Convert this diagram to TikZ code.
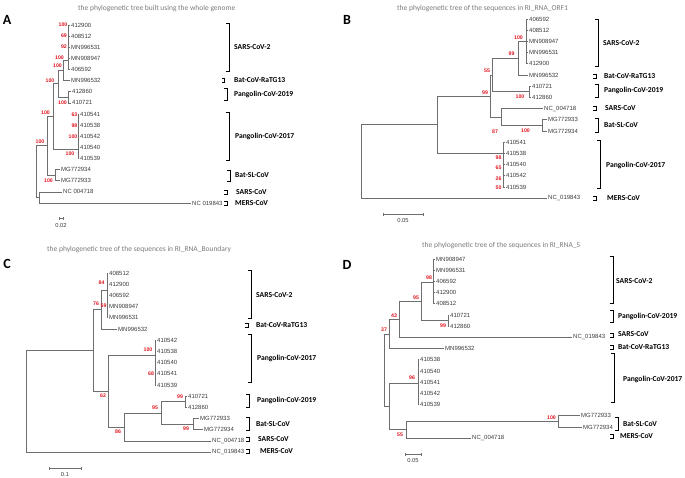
\documentclass[tikz,border=0pt]{standalone}
\usepackage{fontspec}
\setmainfont{Liberation Sans}
\newfontfamily\calfont{Carlito}
\definecolor{treeg}{HTML}{6E6E6E}
\definecolor{leafc}{HTML}{3A3A3A}
\definecolor{bsred}{HTML}{E0141E}
\definecolor{titleg}{HTML}{7A7A7A}
\tikzset{
  br/.style={draw=treeg, line width=0.65pt},
  brk/.style={draw=black, line width=0.75pt},
  leaf/.style={anchor=west, inner sep=0.6pt, text=leafc, font=\fontsize{6}{6.5}\selectfont},
  bs/.style={inner sep=0pt, text=bsred, font=\fontsize{5.2}{5.5}\selectfont\bfseries},
  grp/.style={anchor=west, inner sep=0pt, text=black, font=\fontsize{7.6}{8}\selectfont\calfont\bfseries},
  ttl/.style={anchor=west, inner sep=0pt, text=titleg, font=\fontsize{7.5}{8}\selectfont\calfont},
  plet/.style={inner sep=0pt, font=\fontsize{14}{14}\selectfont\calfont\bfseries},
  sbar/.style={draw=treeg, line width=0.6pt},
  slab/.style={inner sep=0pt, text=leafc, font=\fontsize{5.8}{6}\selectfont}
}
\newcommand\lf[4]{\node[leaf] (#1) at (#2,#3) {#4};}
\newcommand\bsl[4]{\node[bs] (#1) at (#2,#3) {#4};}
\newcommand\grp[7]{\coordinate (#1t) at (#2,#3); \coordinate (#1b) at (#2,#4);
  \draw[brk] ([xshift=-2.6pt]#1t) -- (#1t) -- (#1b) -- ([xshift=-2.6pt]#1b);
  \node[grp] (#1L) at (#5,#6) {#7};}
\begin{document}
\begin{tikzpicture}[x=1pt,y=-1pt]
\useasboundingbox (0,0) rectangle (685,477);
% ================= Panel A =================
\node[plet] (PA) at (7,20) {A};
\node[ttl] (TA) at (78,9) {the phylogenetic tree built using the whole genome};
\lf{A0}{70.4}{25}{412900}
\lf{A1}{70.4}{36.1}{408512}
\lf{A2}{70.4}{47.25}{MN996531}
\lf{A3}{70.4}{58.4}{MN908947}
\lf{A4}{70.4}{69.5}{406592}
\lf{A5}{70.4}{80.6}{MN996532}
\lf{A6}{71.4}{91.75}{412860}
\lf{A7}{71.4}{102.9}{410721}
\lf{A8}{79.4}{114}{410541}
\lf{A9}{79.4}{125.1}{410538}
\lf{A10}{79.4}{136.25}{410542}
\lf{A11}{79.4}{147.4}{410540}
\lf{A12}{79.4}{158.5}{410539}
\lf{A13}{60.4}{169.6}{MG772934}
\lf{A14}{60.4}{180.75}{MG772933}
\lf{A15}{62.4}{191.9}{NC 004718}
\lf{A16}{191.4}{203}{NC 019843}
\coordinate (a1) at (68,60);
\coordinate (a2) at (63,70.3);
\coordinate (a3) at (68,97.3);
\coordinate (a4) at (58,83.8);
\coordinate (a5) at (78,149);
\coordinate (a6) at (53,116.4);
\coordinate (a7) at (55,175.2);
\coordinate (a8) at (47,145.8);
\coordinate (a9) at (39,197.5);
\coordinate (a0) at (36,171.6);
\foreach \c in {A0,A1,A2,A3,A4} \draw[br] (a1) |- (\c.west);
\draw[br] (a2) |- (a1); \draw[br] (a2) |- (A5.west);
\draw[br] (a3) |- (A6.west); \draw[br] (a3) |- (A7.west);
\draw[br] (a4) |- (a2); \draw[br] (a4) |- (a3);
\foreach \c in {A8,A9,A10,A11,A12} \draw[br] (a5) |- (\c.west);
\draw[br] (a6) |- (a4); \draw[br] (a6) |- (a5);
\draw[br] (a7) |- (A13.west); \draw[br] (a7) |- (A14.west);
\draw[br] (a8) |- (a6); \draw[br] (a8) |- (a7);
\draw[br] (a9) |- (A15.west); \draw[br] (a9) |- (A16.west);
\draw[br] (a0) |- (a8); \draw[br] (a0) |- (a9);
\bsl{Ab1}{63}{25}{100}
\bsl{Ab2}{64}{35.5}{69}
\bsl{Ab3}{64}{47}{92}
\bsl{Ab4}{59.5}{57.5}{100}
\bsl{Ab5}{57.5}{66}{100}
\bsl{Ab6}{50}{81}{100}
\bsl{Ab7}{62.5}{103}{100}
\bsl{Ab8}{74.5}{115}{63}
\bsl{Ab9}{74.5}{126}{98}
\bsl{Ab10}{73}{137}{100}
\bsl{Ab11}{70}{153.5}{100}
\bsl{Ab12}{45.5}{113}{100}
\bsl{Ab13}{40}{142}{100}
\bsl{Ab14}{48.5}{181}{100}
\coordinate (sA1) at (59,218); \coordinate (sA2) at (63,218);
\draw[sbar] (sA1) -- (sA2);
\draw[sbar] ([yshift=-1.5pt]sA1) -- ([yshift=1.5pt]sA1);
\draw[sbar] ([yshift=-1.5pt]sA2) -- ([yshift=1.5pt]sA2);
\node[slab] (sAL) at (61,225) {0.02};
\grp{gA1}{229}{23}{71}{234}{47}{SARS-CoV-2}
\grp{gA2}{224.5}{78}{82}{234}{80}{Bat-CoV-RaTG13}
\grp{gA3}{227}{88}{100}{234}{94}{Pangolin-CoV-2019}
\grp{gA4}{229}{112}{160}{235}{136}{Pangolin-CoV-2017}
\grp{gA5}{230}{170}{181}{235}{175}{Bat-SL-CoV}
\grp{gA6}{227}{190}{194}{236}{192}{SARS-CoV}
\grp{gA7}{227}{201}{205}{235}{203}{MERS-CoV}
% ================= Panel B =================
\node[plet] (PB) at (347,20) {B};
\node[ttl] (TB) at (397,9) {the phylogenetic tree of the sequences in RI\_RNA\_ORF1};
\lf{B0}{528.4}{19}{406592}
\lf{B1}{528.4}{30.2}{408512}
\lf{B2}{528.4}{41.4}{MN908947}
\lf{B3}{528.4}{52.6}{MN996531}
\lf{B4}{528.4}{63.8}{412900}
\lf{B5}{528.4}{75}{MN996532}
\lf{B6}{531.4}{86.2}{410721}
\lf{B7}{531.4}{97.4}{412860}
\lf{B8}{543.4}{108.6}{NC\_004718}
\lf{B9}{547.4}{119.8}{MG772933}
\lf{B10}{547.4}{131}{MG772934}
\lf{B11}{505.4}{142.2}{410541}
\lf{B12}{505.4}{153.4}{410538}
\lf{B13}{505.4}{164.6}{410540}
\lf{B14}{505.4}{175.8}{410542}
\lf{B15}{505.4}{187}{410539}
\lf{B16}{547.4}{198.2}{NC\_019843}
\coordinate (b1) at (526,41.4);
\coordinate (b2) at (518,58.2);
\coordinate (b3) at (529,91.8);
\coordinate (b4) at (492,75);
\coordinate (b5) at (542,125.4);
\coordinate (b6) at (501,117);
\coordinate (b7) at (490,96);
\coordinate (b8) at (503,153);
\coordinate (b9) at (437,124.5);
\coordinate (b0) at (361,161.4);
\foreach \c in {B0,B1,B2,B3,B4} \draw[br] (b1) |- (\c.west);
\draw[br] (b2) |- (b1); \draw[br] (b2) |- (B5.west);
\draw[br] (b3) |- (B6.west); \draw[br] (b3) |- (B7.west);
\draw[br] (b4) |- (b2); \draw[br] (b4) |- (b3);
\draw[br] (b5) |- (B9.west); \draw[br] (b5) |- (B10.west);
\draw[br] (b6) |- (B8.west); \draw[br] (b6) |- (b5);
\draw[br] (b7) |- (b4); \draw[br] (b7) |- (b6);
\foreach \c in {B11,B12,B13,B14,B15} \draw[br] (b8) |- (\c.west);
\draw[br] (b9) |- (b7); \draw[br] (b9) |- (b8);
\draw[br] (b0) |- (b9); \draw[br] (b0) |- (B16.west);
\bsl{Bb1}{518.5}{38}{100}
\bsl{Bb2}{511.5}{54}{99}
\bsl{Bb3}{487}{71}{55}
\bsl{Bb4}{520}{97}{100}
\bsl{Bb5}{485}{93}{99}
\bsl{Bb6}{495}{132}{87}
\bsl{Bb7}{525.5}{131}{100}
\bsl{Bb8}{498.5}{158}{98}
\bsl{Bb9}{498.5}{168}{65}
\bsl{Bb10}{498.5}{179}{26}
\bsl{Bb11}{498.5}{187.5}{50}
\coordinate (sB1) at (383,214); \coordinate (sB2) at (423,214);
\draw[sbar] (sB1) -- (sB2);
\draw[sbar] ([yshift=-1.5pt]sB1) -- ([yshift=1.5pt]sB1);
\draw[sbar] ([yshift=-1.5pt]sB2) -- ([yshift=1.5pt]sB2);
\node[slab] (sBL) at (403,220) {0.05};
\grp{gB1}{598}{19}{66}{603}{43}{SARS-CoV-2}
\grp{gB2}{596}{74}{78}{604}{76}{Bat-CoV-RaTG13}
\grp{gB3}{598}{84}{97}{604}{90}{Pangolin-CoV-2019}
\grp{gB4}{596}{106}{110}{605}{108}{SARS-CoV}
\grp{gB5}{598}{118}{132}{604}{125}{Bat-SL-CoV}
\grp{gB6}{600}{140}{188}{606}{165}{Pangolin-CoV-2017}
\grp{gB7}{596}{196}{200}{607}{198}{MERS-CoV}
% ================= Panel C =================
\node[plet] (PC) at (7,264) {C};
\node[ttl] (TC) at (47,250) {the phylogenetic tree of the sequences in RI\_RNA\_Boundary};
\lf{C0}{108.4}{273}{408512}
\lf{C1}{108.4}{284.2}{412900}
\lf{C2}{108.4}{295.4}{406592}
\lf{C3}{108.4}{306.6}{MN908947}
\lf{C4}{108.4}{317.8}{MN996531}
\lf{C5}{117.4}{329}{MN996532}
\lf{C6}{156.4}{340.2}{410542}
\lf{C7}{156.4}{351.4}{410538}
\lf{C8}{156.4}{362.6}{410540}
\lf{C9}{156.4}{373.8}{410541}
\lf{C10}{156.4}{385}{410539}
\lf{C11}{187.4}{396.2}{410721}
\lf{C12}{187.4}{407.4}{412860}
\lf{C13}{199.4}{418.6}{MG772933}
\lf{C14}{203.4}{429.8}{MG772934}
\lf{C15}{211.4}{441}{NC\_004718}
\lf{C16}{211.4}{452.2}{NC\_019843}
\coordinate (c1) at (107,290);
\coordinate (c2) at (101,309.5);
\coordinate (c3) at (155,355);
\coordinate (c4) at (185,401.8);
\coordinate (c5) at (193,424.2);
\coordinate (c6) at (161,413);
\coordinate (c7) at (124,427);
\coordinate (c8) at (108,391);
\coordinate (c9) at (93,350.2);
\coordinate (c0) at (26,401.2);
\foreach \c in {C0,C1,C2,C3,C4} \draw[br] (c1) |- (\c.west);
\draw[br] (c2) |- (c1); \draw[br] (c2) |- (C5.west);
\foreach \c in {C6,C7,C8,C9,C10} \draw[br] (c3) |- (\c.west);
\draw[br] (c4) |- (C11.west); \draw[br] (c4) |- (C12.west);
\draw[br] (c5) |- (C13.west); \draw[br] (c5) |- (C14.west);
\draw[br] (c6) |- (c4); \draw[br] (c6) |- (c5);
\draw[br] (c7) |- (c6); \draw[br] (c7) |- (C15.west);
\draw[br] (c8) |- (c3); \draw[br] (c8) |- (c7);
\draw[br] (c9) |- (c2); \draw[br] (c9) |- (c8);
\draw[br] (c0) |- (c9); \draw[br] (c0) |- (C16.west);
\bsl{Cb1}{101.5}{283}{84}
\bsl{Cb2}{96}{303.5}{76}
\bsl{Cb3}{103.5}{306}{59}
\bsl{Cb4}{148}{350}{100}
\bsl{Cb5}{151}{373.5}{68}
\bsl{Cb6}{103}{396}{62}
\bsl{Cb7}{180}{397}{99}
\bsl{Cb8}{155}{408}{95}
\bsl{Cb9}{186}{429}{99}
\bsl{Cb10}{118}{432}{86}
\coordinate (sC1) at (49,468); \coordinate (sC2) at (81,468);
\draw[sbar] (sC1) -- (sC2);
\draw[sbar] ([yshift=-1.5pt]sC1) -- ([yshift=1.5pt]sC1);
\draw[sbar] ([yshift=-1.5pt]sC2) -- ([yshift=1.5pt]sC2);
\node[slab] (sCL) at (65,474) {0.1};
\grp{gC1}{251}{270}{318}{256}{295}{SARS-CoV-2}
\grp{gC2}{248}{323}{327}{256}{325}{Bat-CoV-RaTG13}
\grp{gC3}{251}{334}{382}{257}{358}{Pangolin-CoV-2017}
\grp{gC4}{249}{394}{407}{257}{400.5}{Pangolin-CoV-2019}
\grp{gC5}{249}{417}{430}{256}{424}{Bat-SL-CoV}
\grp{gC6}{249}{437}{441}{258}{439}{SARS-CoV}
\grp{gC7}{249}{449}{453}{260}{451}{MERS-CoV}
% ================= Panel D =================
\node[plet] (PD) at (347,265) {D};
\node[ttl] (TD) at (422,246) {the phylogenetic tree of the sequences in RI\_RNA\_S};
\lf{D0}{435.4}{259}{MN908947}
\lf{D1}{435.4}{270.2}{MN996531}
\lf{D2}{435.4}{281.4}{406592}
\lf{D3}{435.4}{292.6}{412900}
\lf{D4}{435.4}{303.8}{408512}
\lf{D5}{449.4}{315}{410721}
\lf{D6}{449.4}{326.2}{412860}
\lf{D7}{572.4}{337.4}{NC\_019843}
\lf{D8}{444.4}{348.6}{MN996532}
\lf{D9}{419.4}{359.8}{410538}
\lf{D10}{419.4}{371}{410540}
\lf{D11}{419.4}{382.2}{410541}
\lf{D12}{419.4}{393.4}{410542}
\lf{D13}{419.4}{404.6}{410539}
\lf{D14}{580.4}{415.8}{MG772933}
\lf{D15}{582.4}{427}{MG772934}
\lf{D16}{471.4}{438.2}{NC\_004718}
\coordinate (d1) at (433,282);
\coordinate (d3) at (448,320.6);
\coordinate (d2) at (421,301.3);
\coordinate (d4) at (399,319.4);
\coordinate (d5) at (389,334);
\coordinate (d6) at (418,383);
\coordinate (d7) at (558,421.4);
\coordinate (d8) at (406,429.8);
\coordinate (d9) at (389,406.4);
\coordinate (d0) at (384,370.2);
\foreach \c in {D0,D1,D2,D3,D4} \draw[br] (d1) |- (\c.west);
\draw[br] (d3) |- (D5.west); \draw[br] (d3) |- (D6.west);
\draw[br] (d2) |- (d1); \draw[br] (d2) |- (d3);
\draw[br] (d4) |- (d2); \draw[br] (d4) |- (D7.west);
\draw[br] (d5) |- (d4); \draw[br] (d5) |- (D8.west);
\foreach \c in {D9,D10,D11,D12,D13} \draw[br] (d6) |- (\c.west);
\draw[br] (d7) |- (D14.west); \draw[br] (d7) |- (D15.west);
\draw[br] (d8) |- (d7); \draw[br] (d8) |- (D16.west);
\draw[br] (d9) |- (d6); \draw[br] (d9) |- (d8);
\draw[br] (d0) |- (d5); \draw[br] (d0) |- (d9);
\bsl{Db1}{429}{278}{98}
\bsl{Db2}{416}{298}{95}
\bsl{Db3}{443}{326}{99}
\bsl{Db4}{394}{316}{43}
\bsl{Db5}{384}{330}{37}
\bsl{Db6}{412}{378}{96}
\bsl{Db7}{551.5}{418}{100}
\bsl{Db8}{400}{435}{55}
\coordinate (sD1) at (405,454); \coordinate (sD2) at (421,454);
\draw[sbar] (sD1) -- (sD2);
\draw[sbar] ([yshift=-1.5pt]sD1) -- ([yshift=1.5pt]sD1);
\draw[sbar] ([yshift=-1.5pt]sD2) -- ([yshift=1.5pt]sD2);
\node[slab] (sDL) at (413,460) {0.05};
\grp{gD1}{613}{256}{303}{616}{281}{SARS-CoV-2}
\grp{gD2}{613}{310}{322}{618}{316}{Pangolin-CoV-2019}
\grp{gD3}{613}{333}{337}{618}{334}{SARS-CoV}
\grp{gD4}{613}{345}{349}{618}{347}{Bat-CoV-RaTG13}
\grp{gD5}{614}{353}{402}{623}{379}{Pangolin-CoV-2017}
\grp{gD6}{618}{417}{430}{623}{424}{Bat-SL-CoV}
\grp{gD7}{613}{434}{438}{620}{436}{MERS-CoV}
\end{tikzpicture}
\end{document}
